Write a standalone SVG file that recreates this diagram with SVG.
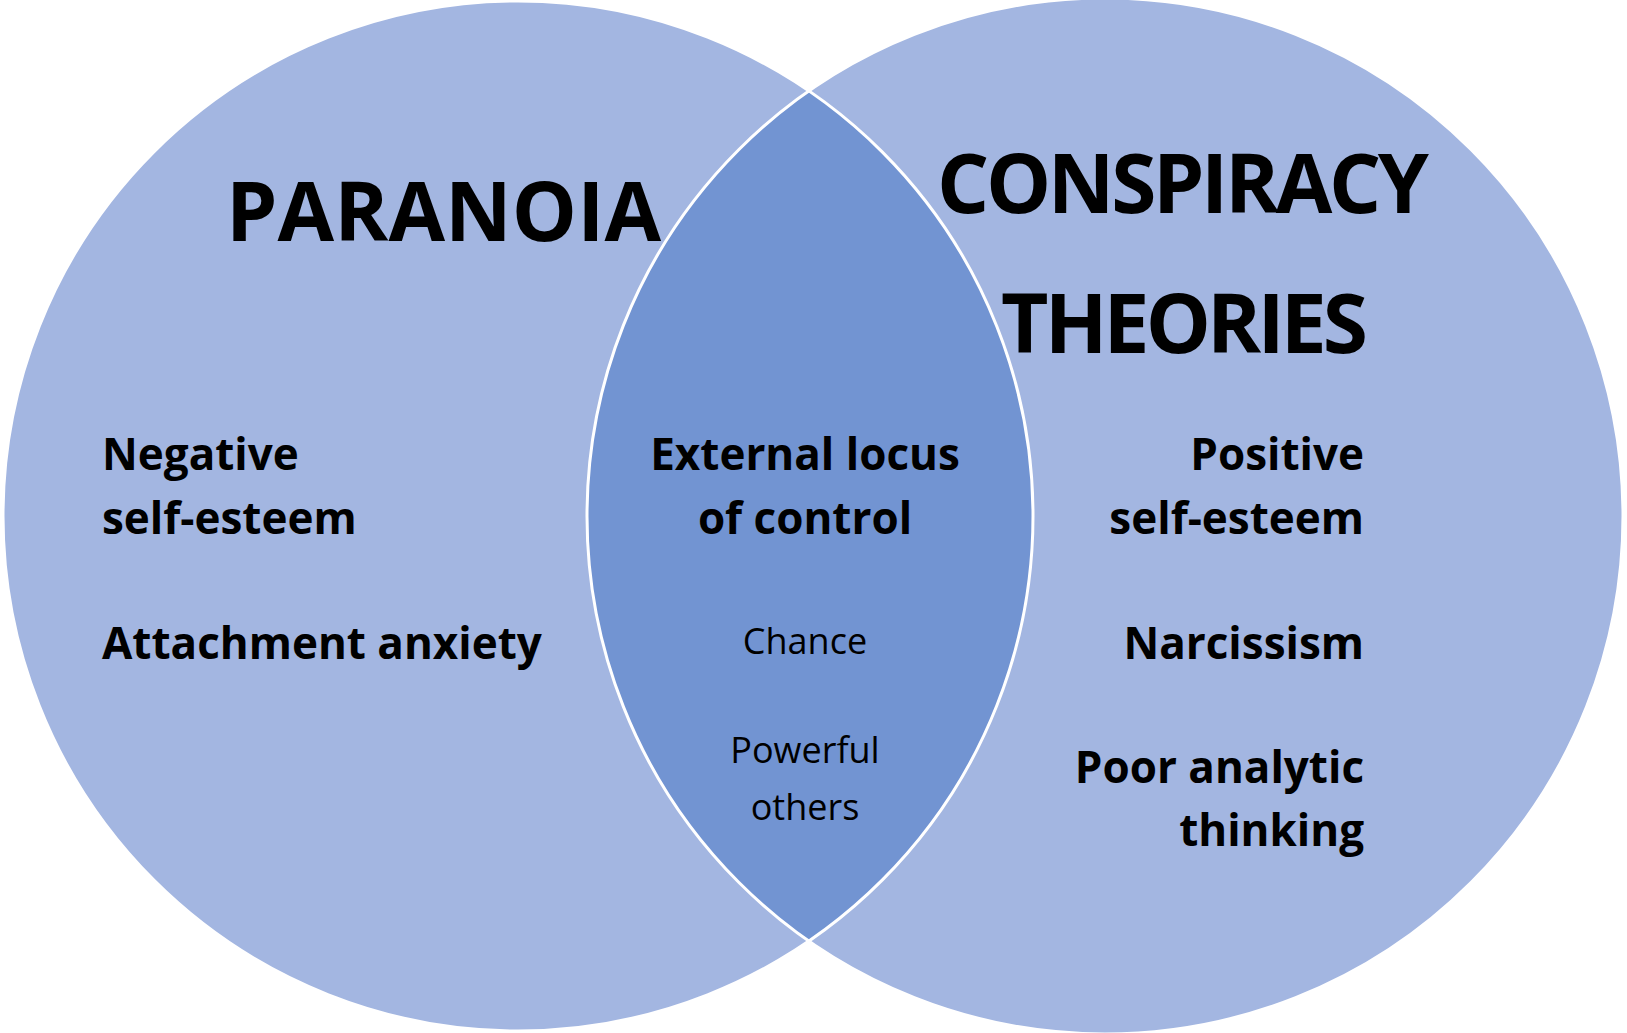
<svg xmlns="http://www.w3.org/2000/svg" width="1627" height="1033" viewBox="0 0 1627 1033">
<style>
.c{fill:#A3B6E1}
.o{fill:none;stroke:#fff;stroke-width:3}
.t{font-family:"Open Sans","Liberation Sans",sans-serif;fill:#000}
.h{font-size:82px;font-weight:bold}
.b{font-size:44px;font-weight:bold}
.n{font-size:36px}
</style>
<defs><clipPath id="cl"><circle cx="518" cy="516" r="515"/></clipPath></defs>
<rect width="1627" height="1033" fill="#fff"/>
<g id="paranoia"><circle class="c" cx="518" cy="516" r="515"/></g>
<g id="conspiracy"><circle class="c" cx="1105" cy="516" r="518"/></g>
<g id="overlap"><circle cx="1105" cy="516" r="518" fill="#7294D2" clip-path="url(#cl)"/></g>
<g id="outlines"><circle class="o" cx="518" cy="516" r="515"/><circle class="o" cx="1105" cy="516" r="518"/></g>
<g id="connectors"></g>
<g id="labels" class="t">
<text class="h" x="226" y="241" textLength="435">PARANOIA</text>
<text class="h" x="937" y="213" textLength="492">CONSPIRACY</text>
<text class="h" x="1001" y="353" textLength="367">THEORIES</text>
<text class="b" x="102" y="470">Negative</text>
<text class="b" x="102" y="534">self-esteem</text>
<text class="b" x="102" y="659">Attachment anxiety</text>
<g text-anchor="middle">
<text class="b" x="805" y="470">External locus</text>
<text class="b" x="805" y="534">of control</text>
<text class="n" x="805" y="654">Chance</text>
<text class="n" x="805" y="763">Powerful</text>
<text class="n" x="805" y="820">others</text>
</g>
<g text-anchor="end">
<text class="b" x="1364" y="470">Positive</text>
<text class="b" x="1364" y="534">self-esteem</text>
<text class="b" x="1364" y="659">Narcissism</text>
<text class="b" x="1364" y="783">Poor analytic</text>
<text class="b" x="1364" y="846">thinking</text>
</g>
</g>
</svg>
